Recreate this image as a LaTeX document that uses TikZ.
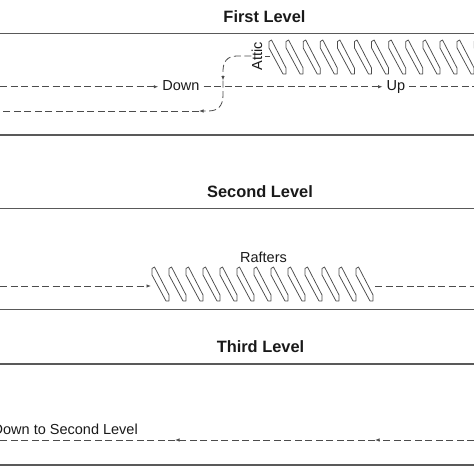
\documentclass[tikz,border=0pt]{standalone}
\usepackage{fontspec}
\setmainfont{Liberation Sans}
\usetikzlibrary{arrows.meta}
\begin{document}
\begin{tikzpicture}[x=1pt,y=-1pt,
  levelline/.style={draw=black!65, line width=1.4pt},
  flow/.style={draw=black!70, line width=0.8pt, dash pattern=on 7pt off 3.5pt},
  tip/.style={-{Latex[length=4.5pt,width=3.5pt]}},
  title/.style={font=\fontsize{16.4}{19}\selectfont\bfseries, anchor=base, inner sep=0pt, text=black!90},
  lbl/.style={font=\fontsize{14.5}{17}\selectfont, text=black!90, inner xsep=4pt, inner ysep=0pt, text height=10.5pt, text depth=3pt},
  rafter/.pic={\draw[black!70, line width=0.75pt, fill=white, line join=round]
     (0,1.5) -- (2.5,0) -- (17,28) -- (17,34) -- (14,34) -- (0,8) -- cycle;}
]
\useasboundingbox (0,0) rectangle (474,474);
\clip (0,0) rectangle (474,474);

% titles
\node[title] (t1) at (264.5,22) {First Level};
\node[title] (t2) at (260,197) {Second Level};
\node[title] (t3) at (260.5,352) {Third Level};

% level lines
\draw[levelline] (0,33.3) -- (474,33.3);
\draw[levelline] (0,135) -- (474,135);
\draw[levelline] (0,208.3) -- (474,208.3);
\draw[levelline] (0,309.3) -- (474,309.3);
\draw[levelline] (0,364) -- (474,364);
\draw[levelline] (0,465) -- (474,465);

% ---- First level ----
\foreach \k in {0,...,12} \pic at ({269+17.1*\k},40) {rafter};
\node[lbl, anchor=base] (down) at (181,90.5) {Down};
\node[lbl, anchor=base] (up) at (396,90.5) {Up};
\node[lbl, rotate=90, anchor=base] (attic) at (262,56) {Attic};
\coordinate (s1) at (0,86.75);
\coordinate (e1) at (474,86.75);
\draw[flow,tip] (s1) -- (down.west);
\draw[flow,tip] (down.east) -- (up.west);
\draw[flow] (up.east) -- (e1);

\coordinate (j1) at (223,80.5);
\coordinate (j2) at (199,111);
\coordinate (s2) at (0,111);
\coordinate (ra) at (270,56);
\draw[flow] (attic.south) -- (ra);
\draw[flow,tip] (attic.north) -- (237,56) .. controls (227,56) and (223,62) .. (223,71) -- (j1);
\draw[flow,tip] (j1) -- (223,95) .. controls (223,106) and (218,111) .. (208,111) -- (j2);
\draw[flow] (j2) -- (s2);

% ---- Second level ----
\foreach \k in {0,...,12} \pic at ({152+17*\k},267) {rafter};
\node[lbl, anchor=base, inner xsep=0pt] (rafters) at (263.5,262) {Rafters};
\coordinate (l2) at (0,286);
\coordinate (r2a) at (151,286);
\coordinate (r2b) at (375,286);
\coordinate (e2) at (474,286);
\draw[flow,tip] (l2) -- (r2a);
\draw[flow] (r2b) -- (e2);

% ---- Third level ----
\node[lbl, anchor=base east] (dsl) at (142,434) {Down to Second Level};
\coordinate (e3) at (474,440);
\coordinate (a1) at (375,440);
\coordinate (a2) at (175,440);
\coordinate (s3) at (0,440);
\draw[flow,tip] (e3) -- (a1);
\draw[flow,tip] (a1) -- (a2);
\draw[flow] (a2) -- (s3);
\end{tikzpicture}
\end{document}
